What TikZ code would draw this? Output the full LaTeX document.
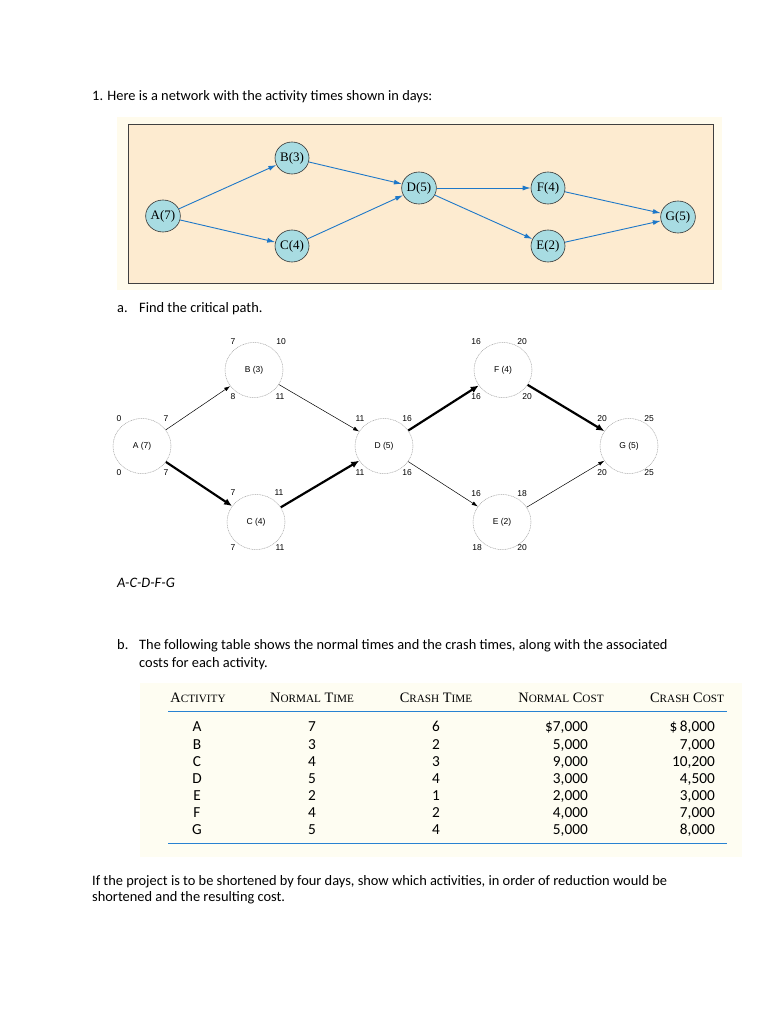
\documentclass[tikz,border=0pt]{standalone}
\usepackage{fontspec}
\setmainfont{Carlito}
\newfontfamily\serifnet{Liberation Serif}
\newfontfamily\arialfont{Liberation Sans}
\usetikzlibrary{shapes.geometric,arrows.meta}
\definecolor{outercream}{RGB}{255,251,236}
\definecolor{innercream}{RGB}{253,235,208}
\definecolor{nodecyan}{RGB}{168,220,226}
\definecolor{netblue}{RGB}{30,120,200}
\definecolor{tablebg}{RGB}{254,253,242}
\definecolor{rulblue}{RGB}{40,130,210}
\newcommand\myfsc[2]{#1{\fontsize{11.2}{12}\selectfont #2}}
\tikzset{
  bodytext/.style={anchor=base west,inner sep=0pt,font=\fontsize{14.4}{16}\selectfont},
  topnode/.style={ellipse,draw=black!80,line width=0.6pt,fill=nodecyan,minimum width=34pt,minimum height=32pt,inner sep=0pt,font=\serifnet\fontsize{13}{14}\selectfont},
  toparrow/.style={draw=netblue,line width=0.9pt,-{Latex[length=8pt,width=5pt]}},
  cpmnode/.style={ellipse,draw=gray!70,dash pattern=on 1pt off 0.7pt,line width=0.5pt,minimum width=58pt,minimum height=55pt,inner sep=0pt,font=\arialfont\fontsize{8.5}{10}\selectfont},
  num/.style={inner sep=0pt,font=\arialfont\fontsize{8.5}{10}\selectfont},
  thinarr/.style={draw=black,line width=0.5pt,-{Latex[length=6pt,width=4pt]}},
  thickarr/.style={draw=black,line width=2.2pt,-{Latex[length=8pt,width=7pt]}},
  hdr/.style={anchor=base,inner sep=0pt,font=\serifnet\fontsize{14.4}{15}\selectfont},
  cell/.style={anchor=base,inner sep=0pt,font=\fontsize{15.3}{17}\selectfont},
  cellr/.style={anchor=base east,inner sep=0pt,font=\fontsize{15.3}{17}\selectfont}
}
\begin{document}
\begin{tikzpicture}[x=1pt,y=-1pt]
\useasboundingbox[fill=white] (0,0) rectangle (768,1024);

\node[bodytext] (t1) at (92,101) {1. Here is a network with the activity times shown in days:};

% top network
\fill[outercream] (117,117) rectangle (722,290);
\draw[fill=innercream,draw=black!75,line width=0.8pt] (128,124) rectangle (713,283);
\node[topnode] (tA) at (163,216) {A(7)};
\node[topnode] (tB) at (292,158) {B(3)};
\node[topnode] (tC) at (292,246) {C(4)};
\node[topnode] (tD) at (419,188) {D(5)};
\node[topnode] (tF) at (548,188) {F(4)};
\node[topnode] (tE) at (548,246) {E(2)};
\node[topnode] (tG) at (678,217) {G(5)};
\draw[toparrow] (tA) -- (tB);
\draw[toparrow] (tA) -- (tC);
\draw[toparrow] (tB) -- (tD);
\draw[toparrow] (tC) -- (tD);
\draw[toparrow] (tD) -- (tF);
\draw[toparrow] (tD) -- (tE);
\draw[toparrow] (tF) -- (tG);
\draw[toparrow] (tE) -- (tG);

\node[bodytext] (la) at (117,312) {a.};
\node[bodytext] (lat) at (139,312) {Find the critical path.};

% CPM network
\node[cpmnode] (A) at (142,446) {A (7)};
\node[cpmnode] (B) at (254,370) {B (3)};
\node[cpmnode] (C) at (256,522) {C (4)};
\node[cpmnode] (D) at (384,446) {D (5)};
\node[cpmnode] (F) at (503,370) {F (4)};
\node[cpmnode] (E) at (502,522) {E (2)};
\node[cpmnode] (G) at (629,446) {G (5)};
\draw[thinarr] (A) -- (B);
\draw[thinarr] (B) -- (D);
\draw[thinarr] (D) -- (E);
\draw[thinarr] (E) -- (G);
\draw[thickarr] (A) -- (C);
\draw[thickarr] (C) -- (D);
\draw[thickarr] (D) -- (F);
\draw[thickarr] (F) -- (G);

\node[num] (a1) at (119,419) {0};
\node[num] (a2) at (166,419) {7};
\node[num] (a3) at (119,473) {0};
\node[num] (a4) at (166,473) {7};
\node[num] (b1) at (233,342) {7};
\node[num] (b2) at (281,342) {10};
\node[num] (b3) at (233,397) {8};
\node[num] (b4) at (280,397) {11};
\node[num] (c1) at (233,493) {7};
\node[num] (c2) at (279,493) {11};
\node[num] (c3) at (233,548) {7};
\node[num] (c4) at (280,548) {11};
\node[num] (d1) at (360,419) {11};
\node[num] (d2) at (407,419) {16};
\node[num] (d3) at (360,473) {11};
\node[num] (d4) at (407,473) {16};
\node[num] (f1) at (476,342) {16};
\node[num] (f2) at (522,342) {20};
\node[num] (f3) at (476,397) {16};
\node[num] (f4) at (527,397) {20};
\node[num] (e1) at (476,494) {16};
\node[num] (e2) at (522,494) {18};
\node[num] (e3) at (477,548) {18};
\node[num] (e4) at (522,548) {20};
\node[num] (g1) at (602,419) {20};
\node[num] (g2) at (649,419) {25};
\node[num] (g3) at (602,473) {20};
\node[num] (g4) at (649,473) {25};

\node[bodytext,font=\itshape\fontsize{14.4}{16}\selectfont] (cp) at (117,587) {A-C-D-F-G};

\node[bodytext] (lb) at (117,649) {b.};
\node[bodytext] (lbt1) at (139,649) {The following table shows the normal times and the crash times, along with the associated};
\node[bodytext] (lbt2) at (139,667) {costs for each activity.};

% table
\fill[tablebg] (140,683) rectangle (742,857);
\node[hdr] (h1) at (198,702) {\myfsc{A}{CTIVITY}};
\node[hdr] (h2) at (312,702) {\myfsc{N}{ORMAL} \myfsc{T}{IME}};
\node[hdr] (h3) at (436,702) {\myfsc{C}{RASH} \myfsc{T}{IME}};
\node[hdr] (h4) at (561,702) {\myfsc{N}{ORMAL} \myfsc{C}{OST}};
\node[hdr] (h5) at (687,702) {\myfsc{C}{RASH} \myfsc{C}{OST}};
\coordinate (r1a) at (168,711);
\coordinate (r1b) at (727,711);
\coordinate (r2a) at (168,843);
\coordinate (r2b) at (727,843);
\draw[rulblue,line width=1pt] (r1a) -- (r1b);
\draw[rulblue,line width=1pt] (r2a) -- (r2b);

\node[cell] (act1) at (197,731) {A};
\node[cell] (nt1) at (312,731) {7};
\node[cell] (ct1) at (436,731) {6};
\node[cellr] (nc1) at (588,731) {\$7,000};
\node[cellr] (cc1) at (715,731) {\$\,8,000};

\node[cell] (act2) at (197,749) {B};
\node[cell] (nt2) at (312,749) {3};
\node[cell] (ct2) at (436,749) {2};
\node[cellr] (nc2) at (588,749) {5,000};
\node[cellr] (cc2) at (715,749) {7,000};

\node[cell] (act3) at (197,766) {C};
\node[cell] (nt3) at (312,766) {4};
\node[cell] (ct3) at (436,766) {3};
\node[cellr] (nc3) at (588,766) {9,000};
\node[cellr] (cc3) at (715,766) {10,200};

\node[cell] (act4) at (197,783) {D};
\node[cell] (nt4) at (312,783) {5};
\node[cell] (ct4) at (436,783) {4};
\node[cellr] (nc4) at (588,783) {3,000};
\node[cellr] (cc4) at (715,783) {4,500};

\node[cell] (act5) at (197,800) {E};
\node[cell] (nt5) at (312,800) {2};
\node[cell] (ct5) at (436,800) {1};
\node[cellr] (nc5) at (588,800) {2,000};
\node[cellr] (cc5) at (715,800) {3,000};

\node[cell] (act6) at (197,817) {F};
\node[cell] (nt6) at (312,817) {4};
\node[cell] (ct6) at (436,817) {2};
\node[cellr] (nc6) at (588,817) {4,000};
\node[cellr] (cc6) at (715,817) {7,000};

\node[cell] (act7) at (197,834) {G};
\node[cell] (nt7) at (312,834) {5};
\node[cell] (ct7) at (436,834) {4};
\node[cellr] (nc7) at (588,834) {5,000};
\node[cellr] (cc7) at (715,834) {8,000};

\node[bodytext] (q1) at (92,885) {If the project is to be shortened by four days, show which activities, in order of reduction would be};
\node[bodytext] (q2) at (92,901) {shortened and the resulting cost.};
\end{tikzpicture}
\end{document}
